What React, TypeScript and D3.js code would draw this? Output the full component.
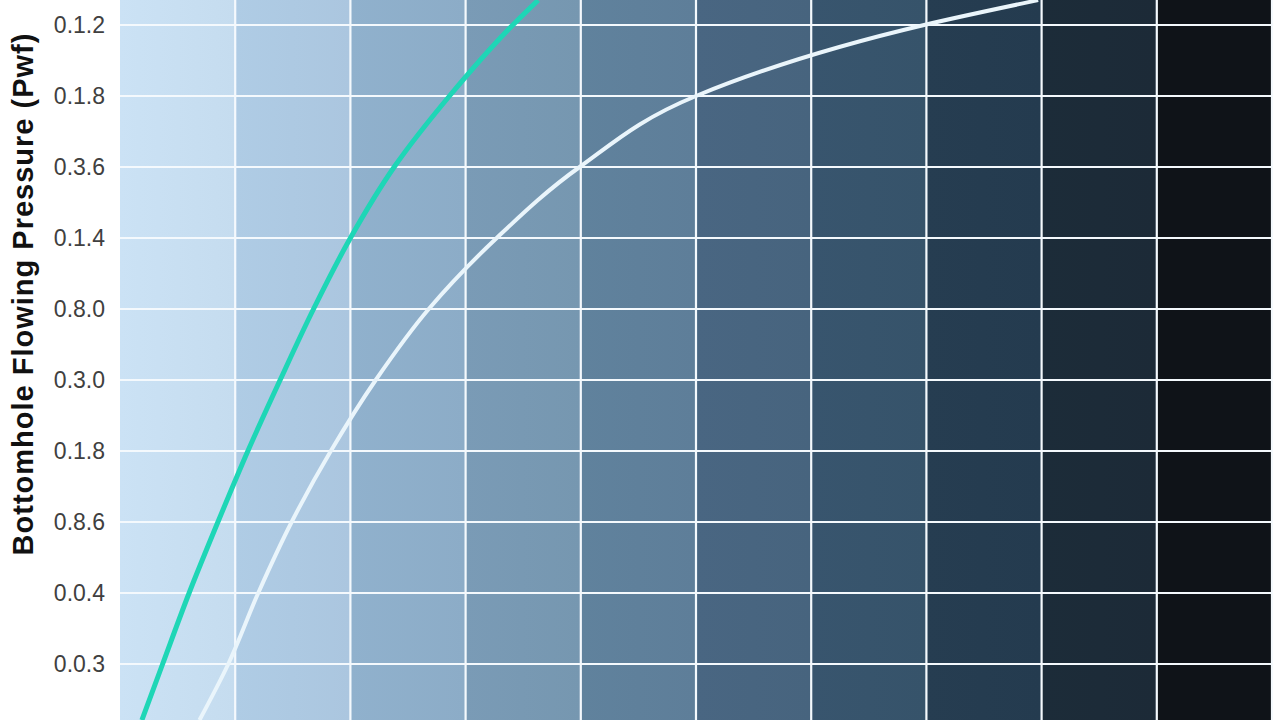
import React, { useRef, useEffect } from 'react';
import * as d3 from 'd3';

// y tick labels, bottom to top (as printed on the chart)
const yTickLabels = ['0.0.3', '0.0.4', '0.8.6', '0.1.8', '0.3.0', '0.8.0', '0.1.4', '0.3.6', '0.1.8', '0.1.2'];

// background column shades, left to right
const columnColors = [
  '#c8dff2', '#adc9e2', '#8eaeca', '#7899b3', '#5f809b',
  '#486580', '#37546c', '#253c50', '#1c2b38', '#0f1318'
];

// curve points, y in tick units (0 = bottom tick), x in column units
const tealLevels = [-0.79, 0, 1, 2, 3, 4, 5, 6, 7, 8, 9, 9.35];
const tealRates = [0.19, 0.37, 0.60, 0.85, 1.11, 1.39, 1.68, 2.00, 2.38, 2.86, 3.41, 3.63];
const whiteLevels = [-0.79, 0, 1, 2, 3, 4, 5, 6, 7, 8, 9, 9.35];
const whiteRates = [0.69, 0.94, 1.20, 1.49, 1.83, 2.22, 2.68, 3.27, 3.99, 5.00, 6.98, 7.97];

const App: React.FC = () => {
  const svgRef = useRef<SVGSVGElement>(null);
  const width = 1280;
  const height = 720;

  useEffect(() => {
    if (!svgRef.current) return;
    const svg = d3.select(svgRef.current);
    svg.selectAll('*').remove();

    const plot = { left: 120, right: 1272, top: 0, bottom: 720 };

    const xScale = d3.scaleLinear()
      .domain([0, columnColors.length])
      .range([plot.left, plot.right]);

    const yScale = d3.scaleLinear()
      .domain([0, yTickLabels.length - 1])
      .range([664, 25]);

    const defs = svg.append('defs');
    defs.append('clipPath')
      .attr('id', 'plot-clip')
      .append('rect')
      .attr('x', plot.left)
      .attr('y', plot.top)
      .attr('width', plot.right - plot.left)
      .attr('height', plot.bottom - plot.top);

    // columns with a soft left-to-right shading
    columnColors.forEach((c, i) => {
      const grad = defs.append('linearGradient')
        .attr('id', `col-grad-${i}`)
        .attr('x1', '0%').attr('x2', '100%');
      grad.append('stop').attr('offset', '0%').attr('stop-color', d3.color(c)!.brighter(0.04).formatHex());
      grad.append('stop').attr('offset', '100%').attr('stop-color', d3.color(c)!.darker(0.04).formatHex());

      svg.append('rect')
        .attr('x', xScale(i))
        .attr('y', plot.top)
        .attr('width', xScale(i + 1) - xScale(i))
        .attr('height', plot.bottom - plot.top)
        .attr('fill', `url(#col-grad-${i})`);
    });

    // grid
    const grid = svg.append('g').attr('stroke', '#f4f9fd').attr('stroke-width', 2.2);
    d3.range(1, columnColors.length + 1).forEach(i => {
      grid.append('line')
        .attr('x1', xScale(i)).attr('x2', xScale(i))
        .attr('y1', plot.top).attr('y2', plot.bottom);
    });
    yTickLabels.forEach((_, i) => {
      grid.append('line')
        .attr('x1', plot.left).attr('x2', plot.right)
        .attr('y1', yScale(i)).attr('y2', yScale(i));
    });

    // y axis tick labels
    const yAxis = d3.axisLeft(yScale)
      .tickValues(d3.range(yTickLabels.length))
      .tickFormat(d => yTickLabels[Number(d)])
      .tickSize(0)
      .tickPadding(15);

    const axisG = svg.append('g')
      .attr('transform', `translate(${plot.left},0)`)
      .call(yAxis);
    axisG.select('.domain').remove();
    axisG.selectAll('text')
      .attr('fill', '#404040')
      .style('font-family', '"Liberation Sans", Arial, sans-serif')
      .style('font-size', '23px');

    // curves
    const curves = svg.append('g').attr('clip-path', 'url(#plot-clip)');
    const makeLine = (levels: number[]) => d3.line<number>()
      .x(d => xScale(d))
      .y((_, i) => yScale(levels[i]))
      .curve(d3.curveMonotoneY);

    curves.append('path')
      .datum(whiteRates)
      .attr('d', makeLine(whiteLevels))
      .attr('fill', 'none')
      .attr('stroke', '#eaf5fb')
      .attr('stroke-width', 4);

    curves.append('path')
      .datum(tealRates)
      .attr('d', makeLine(tealLevels))
      .attr('fill', 'none')
      .attr('stroke', '#1ed6b6')
      .attr('stroke-width', 5);

    // axis title
    svg.append('text')
      .attr('transform', 'rotate(-90)')
      .attr('x', -294)
      .attr('y', 33)
      .attr('text-anchor', 'middle')
      .attr('fill', '#111')
      .style('font-family', '"Liberation Sans", Arial, sans-serif')
      .style('font-weight', 'bold')
      .style('font-size', '29px')
      .style('letter-spacing', '1px')
      .text('Bottomhole Flowing Pressure (Pwf)');
  }, []);

  return (
    <svg
      ref={svgRef}
      width={width}
      height={height}
      style={{ position: 'absolute', left: 0, top: 0, background: '#fff' }}
    />
  );
};

export default App;
